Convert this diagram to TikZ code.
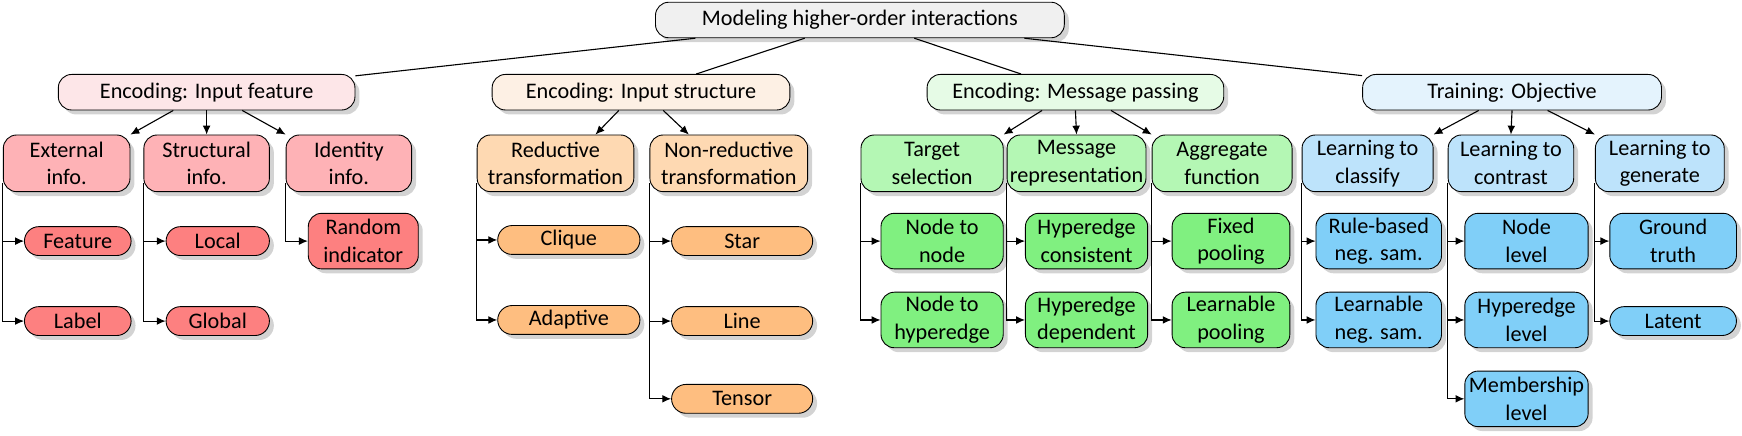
\documentclass[tikz,border=0pt]{standalone}
\usepackage{fontspec}
\setmainfont{Carlito}
\usetikzlibrary{shadows,arrows.meta}
\definecolor{rootc}{HTML}{F0F0F0}
\definecolor{a1}{HTML}{FDE6E8}\definecolor{a2}{HTML}{FEB2B6}\definecolor{a3}{HTML}{FD8080}
\definecolor{b1}{HTML}{FDF0E4}\definecolor{b2}{HTML}{FED9B2}\definecolor{b3}{HTML}{FEBE80}
\definecolor{c1}{HTML}{E6FBE6}\definecolor{c2}{HTML}{B4F7B4}\definecolor{c3}{HTML}{80F080}
\definecolor{d1}{HTML}{E4F3FD}\definecolor{d2}{HTML}{BDE3FB}\definecolor{d3}{HTML}{80CFF8}
\tikzset{
 bx/.style={draw, rounded corners=6pt, align=center, inner sep=1pt, font=\fontsize{10}{12.5}\selectfont,
   drop shadow={shadow xshift=2pt, shadow yshift=-2pt, opacity=0.35}},
 l1/.style 2 args={bx, fill=#1, minimum width=#2*0.5pt, minimum height=16pt},
 l2/.style 2 args={bx, fill=#1, minimum width=#2*0.5pt, minimum height=25.5pt},
 lf/.style 2 args={bx, fill=#1, minimum width=#2*0.5pt, minimum height=13pt, rounded corners=6.5pt},
 lf2/.style 2 args={bx, fill=#1, minimum width=#2*0.5pt, minimum height=25pt},
 ar/.style={-{Latex[length=4pt,width=3.5pt]}, line width=0.5pt},
 ln/.style={line width=0.5pt},
}
\begin{document}
\begin{tikzpicture}[x=0.5pt,y=-0.5pt]
\useasboundingbox (0,0) rectangle (1568,392);
\node[l1={rootc}{368}] (root) at (774,18) {Modeling higher-order interactions};
\node[l1={a1}{267}] (A) at (186,83) {Encoding: Input feature};
\node[l1={b1}{268}] (B) at (577,83) {Encoding: Input structure};
\node[l1={c1}{267}] (C) at (968,83) {Encoding: Message passing};
\node[l1={d1}{269}] (D) at (1361,83) {Training: Objective};
\foreach \n in {A,B,C,D} \draw[ln] (root) -- (\n);
% A
\node[l2={a2}{114}] (A1) at (60,147) {External\\info.};
\node[l2={a2}{113}] (A2) at (186,147) {Structural\\info.};
\node[l2={a2}{113}] (A3) at (314,147) {Identity\\info.};
\draw[ar] ([xshift=-15pt]A.south) -- (A1.north east);
\draw[ar] (A.south) -- (A2.north);
\draw[ar] ([xshift=16pt]A.south) -- (A3.north west);
\node[lf={a3}{96}] (A11) at (70,217) {Feature};
\node[lf={a3}{96}] (A12) at (70,289) {Label};
\node[lf={a3}{93}] (A21) at (196,217) {Local};
\node[lf={a3}{93}] (A22) at (196,289) {Global};
\node[lf2={a3}{99}] (A31) at (327,217) {Random\\indicator};
% B
\node[l2={b2}{141}] (B1) at (500,147) {Reductive\\transformation};
\node[l2={b2}{142}] (B2) at (656,147) {Non-reductive\\transformation};
\draw[ar] ([xshift=-10pt]B.south) -- ([xshift=18pt]B1.north);
\draw[ar] ([xshift=10pt]B.south) -- ([xshift=-18pt]B2.north);
\node[lf={b3}{128}] (B11) at (512,216) {Clique};
\node[lf={b3}{128}] (B12) at (512,288) {Adaptive};
\node[lf={b3}{127}] (B21) at (668,217) {Star};
\node[lf={b3}{127}] (B22) at (668,289) {Line};
\node[lf={b3}{127}] (B23) at (668,359) {Tensor};
% C
\node[l2={c2}{128}] (C1) at (839,147) {Target\\selection};
\node[l2={c2}{125}] (C2) at (969,147) {Message\\representation};
\node[l2={c2}{126}] (C3) at (1100,147) {Aggregate\\function};
\draw[ar] ([xshift=-15pt]C.south) -- (C1.north east);
\draw[ar] (C.south) -- (C2.north);
\draw[ar] ([xshift=16pt]C.south) -- (C3.north west);
\node[lf2={c3}{110}] (C11) at (848,217) {Node to\\node};
\node[lf2={c3}{110}] (C12) at (848,288) {Node to\\hyperedge};
\node[lf2={c3}{110}] (C21) at (978,217) {Hyperedge\\consistent};
\node[lf2={c3}{110}] (C22) at (978,288) {Hyperedge\\dependent};
\node[lf2={c3}{106}] (C31) at (1108,217) {Fixed\\pooling};
\node[lf2={c3}{106}] (C32) at (1108,288) {Learnable\\pooling};
% D
\node[l2={d2}{118}] (D1) at (1231,147) {Learning to\\classify};
\node[l2={d2}{113}] (D2) at (1360,147) {Learning to\\contrast};
\node[l2={d2}{116}] (D3) at (1494,147) {Learning to\\generate};
\draw[ar] ([xshift=-15pt]D.south) -- (D1.north east);
\draw[ar] (D.south) -- (D2.north);
\draw[ar] ([xshift=16pt]D.south) -- (D3.north west);
\node[lf2={d3}{113}] (D11) at (1241,217) {Rule-based\\neg. sam.};
\node[lf2={d3}{113}] (D12) at (1241,288) {Learnable\\neg. sam.};
\node[lf2={d3}{111}] (D21) at (1374,217) {Node\\level};
\node[lf2={d3}{111}] (D22) at (1374,288) {Hyperedge\\level};
\node[lf2={d3}{111}] (D23) at (1374,359) {Membership\\level};
\node[lf2={d3}{114}] (D31) at (1506,217) {Ground\\truth};
\node[lf={d3}{114}] (D32) at (1506,289) {Latent};
% leaf connectors
\foreach \p/\c in {A1/A11,A1/A12,A2/A21,A2/A22,A3/A31,B1/B11,B1/B12,B2/B21,B2/B22,B2/B23,
  C1/C11,C1/C12,C2/C21,C2/C22,C3/C31,C3/C32,D1/D11,D1/D12,D2/D21,D2/D22,D2/D23,D3/D31,D3/D32}
  \draw[ar] ([yshift=-9pt]\p.west) |- (\c.west);
\end{tikzpicture}
\end{document}
